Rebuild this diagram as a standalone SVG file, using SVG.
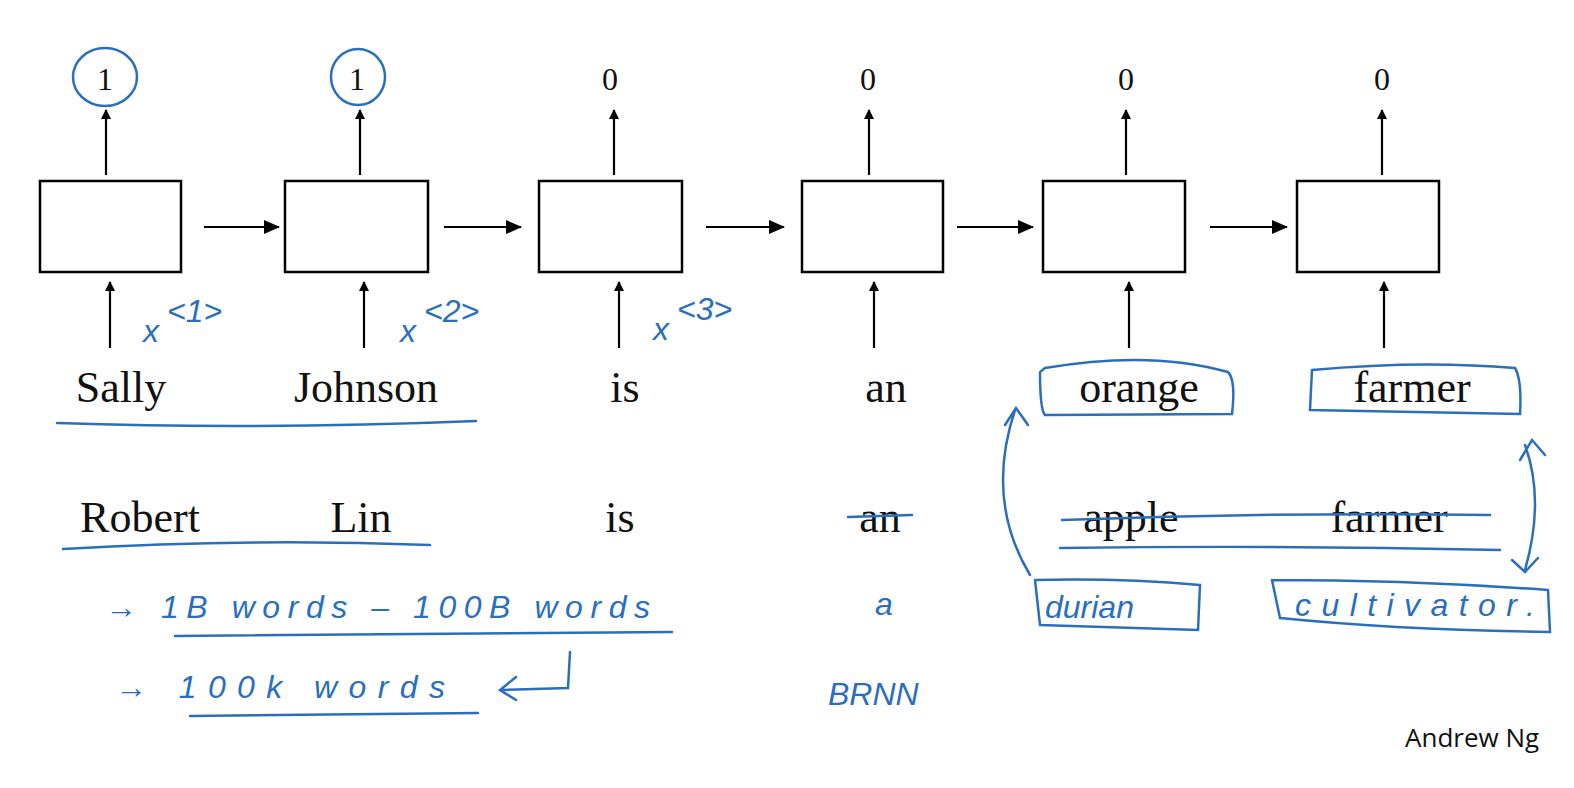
<svg xmlns="http://www.w3.org/2000/svg" width="1574" height="788" viewBox="0 0 1574 788">
<defs>
<marker id="ah" markerWidth="10" markerHeight="10" refX="9" refY="5" orient="auto" markerUnits="userSpaceOnUse"><path d="M0,0 L10,5 L0,10 Z" fill="#000"/></marker>
<marker id="ah2" markerWidth="16" markerHeight="14" refX="15" refY="7" orient="auto" markerUnits="userSpaceOnUse"><path d="M0,0 L16,7 L0,14 Z" fill="#000"/></marker>
</defs>
<style>
.box{fill:#fff;stroke:#000;stroke-width:2.5}
.ln{stroke:#000;stroke-width:2.2;fill:none}
.w{font-family:"Liberation Serif",serif;font-size:44px;fill:#111;text-anchor:middle}
.o{font-family:"Liberation Serif",serif;font-size:32px;fill:#111;text-anchor:middle}
.h{font-family:"Liberation Sans",sans-serif;font-size:32px;fill:#2a6fbf;font-style:italic}
.b{stroke:#2a6fbf;stroke-width:2.5;fill:none;stroke-linecap:round}
.ng{font-family:"Open Sans",sans-serif;font-size:26px;fill:#111}
</style>
<rect width="1574" height="788" fill="#fff"/>
<g id="n1"><rect class="box" x="40" y="181" width="141" height="91"/></g>
<g id="n2"><rect class="box" x="285" y="181" width="143" height="91"/></g>
<g id="n3"><rect class="box" x="539" y="181" width="143" height="91"/></g>
<g id="n4"><rect class="box" x="802" y="181" width="141" height="91"/></g>
<g id="n5"><rect class="box" x="1043" y="181" width="142" height="91"/></g>
<g id="n6"><rect class="box" x="1297" y="181" width="142" height="91"/></g>
<g id="connectors">
<line class="ln" x1="204" y1="227" x2="279" y2="227" marker-end="url(#ah2)"/>
<line class="ln" x1="444" y1="227" x2="521" y2="227" marker-end="url(#ah2)"/>
<line class="ln" x1="706" y1="227" x2="784" y2="227" marker-end="url(#ah2)"/>
<line class="ln" x1="957" y1="227" x2="1033" y2="227" marker-end="url(#ah2)"/>
<line class="ln" x1="1210" y1="227" x2="1287" y2="227" marker-end="url(#ah2)"/>
<line class="ln" x1="106" y1="175" x2="106" y2="110" marker-end="url(#ah)"/>
<line class="ln" x1="360" y1="175" x2="360" y2="110" marker-end="url(#ah)"/>
<line class="ln" x1="614" y1="175" x2="614" y2="110" marker-end="url(#ah)"/>
<line class="ln" x1="869" y1="175" x2="869" y2="110" marker-end="url(#ah)"/>
<line class="ln" x1="1126" y1="175" x2="1126" y2="110" marker-end="url(#ah)"/>
<line class="ln" x1="1382" y1="175" x2="1382" y2="110" marker-end="url(#ah)"/>
<line class="ln" x1="110" y1="348" x2="110" y2="282" marker-end="url(#ah)"/>
<line class="ln" x1="364" y1="348" x2="364" y2="282" marker-end="url(#ah)"/>
<line class="ln" x1="619" y1="348" x2="619" y2="282" marker-end="url(#ah)"/>
<line class="ln" x1="874" y1="348" x2="874" y2="282" marker-end="url(#ah)"/>
<line class="ln" x1="1129" y1="348" x2="1129" y2="282" marker-end="url(#ah)"/>
<line class="ln" x1="1384" y1="348" x2="1384" y2="282" marker-end="url(#ah)"/>
</g>
<text class="o" x="105" y="90">1</text><text class="o" x="357" y="90">1</text>
<text class="o" x="610" y="90">0</text><text class="o" x="868" y="90">0</text>
<text class="o" x="1126" y="90">0</text><text class="o" x="1382" y="90">0</text>
<text class="w" x="121" y="402">Sally</text><text class="w" x="366" y="402">Johnson</text>
<text class="w" x="625" y="402">is</text><text class="w" x="886" y="402">an</text>
<text class="w" x="1139" y="402">orange</text><text class="w" x="1412" y="402">farmer</text>
<text class="w" x="140" y="532">Robert</text><text class="w" x="361" y="532">Lin</text>
<text class="w" x="620" y="532">is</text><text class="w" x="880" y="532">an</text>
<text class="w" x="1131" y="532">apple</text><text class="w" x="1389" y="532">farmer</text>
<text class="ng" x="1405" y="747">Andrew Ng</text>
<g id="annotations">
<ellipse class="b" cx="105" cy="77" rx="32" ry="29"/>
<ellipse class="b" cx="358" cy="77" rx="27" ry="28"/>
<text class="h" x="143" y="342">x</text><text class="h" x="167" y="322" font-size="20">&lt;1&gt;</text>
<text class="h" x="400" y="342">x</text><text class="h" x="424" y="322" font-size="20">&lt;2&gt;</text>
<text class="h" x="653" y="340">x</text><text class="h" x="677" y="320" font-size="20">&lt;3&gt;</text>
<path class="b" d="M57,423 Q260,430 476,421"/>
<path class="b" d="M63,549 Q250,538 430,545"/>
<path class="b" d="M848,517 L912,515"/>
<path class="b" d="M1062,520 Q1280,512 1490,515"/>
<path class="b" d="M1060,548 Q1280,545 1500,550"/>
<path class="b" d="M1040,372 Q1040,410 1045,415 L1232,414 Q1236,380 1228,372 Q1150,350 1045,368 Z"/>
<path class="b" d="M1312,370 L1310,410 L1520,414 Q1522,380 1515,368 Q1420,360 1312,370"/>
<path class="b" d="M1035,580 L1040,625 L1198,630 L1200,585 Q1120,578 1035,580"/>
<path class="b" d="M1272,580 L1280,618 Q1400,630 1550,632 L1548,590 Q1410,580 1272,580"/>
<path class="b" d="M1030,575 Q985,500 1015,410 M1005,425 L1016,408 L1028,425"/>
<path class="b" d="M1525,445 Q1545,500 1525,570 M1512,560 L1525,572 L1538,558 M1520,460 L1532,440 L1545,455"/>
<text class="h" x="1045" y="618">durian</text>
<text class="h" x="1295" y="616" textLength="240" lengthAdjust="spacing">cultivator.</text>
<text class="h" x="875" y="615">a</text>
<text class="h" x="828" y="705">BRNN</text>
<text class="h" x="105" y="618" textLength="545" lengthAdjust="spacing">→ 1B words – 100B words</text>
<path class="b" d="M175,636 L672,632"/>
<text class="h" x="115" y="698" textLength="330" lengthAdjust="spacing">→ 100k words</text>
<path class="b" d="M190,716 L478,713"/>
<path class="b" d="M570,652 L568,688 L502,690 M516,677 L500,690 L516,700"/>
</g>
</svg>
